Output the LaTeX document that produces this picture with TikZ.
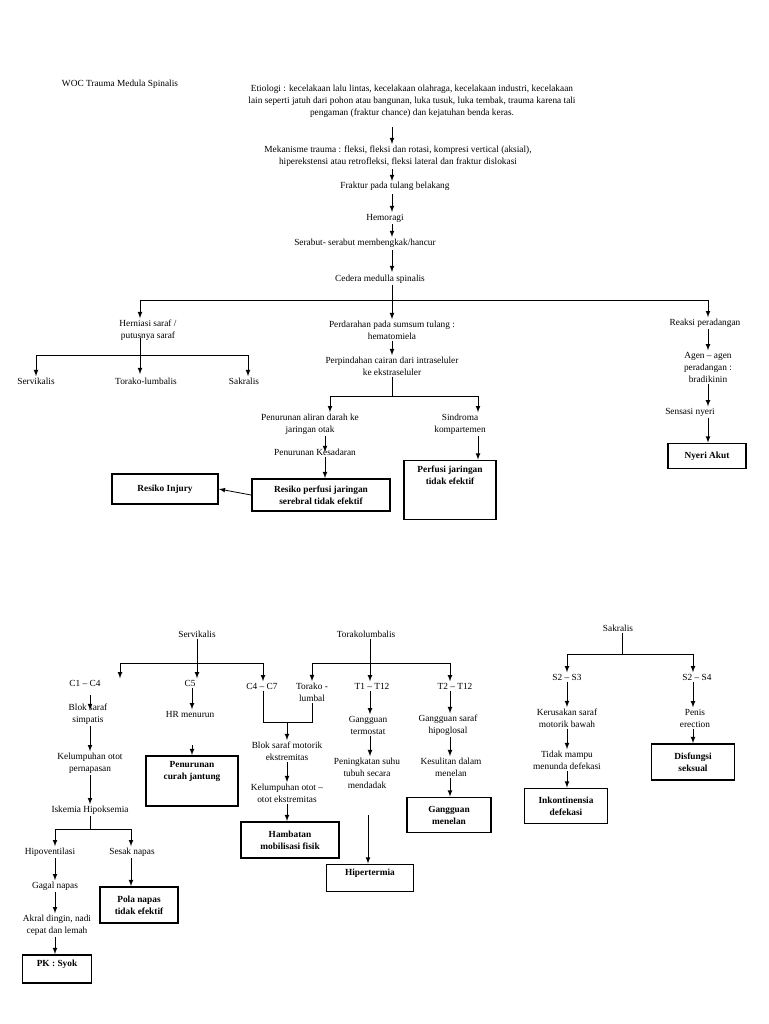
\documentclass[tikz,border=0pt]{standalone}
\usepackage{fontspec}
\setmainfont{Liberation Serif}
\begin{document}
\begin{tikzpicture}[x=0.75pt,y=-0.75pt,
  t/.style={font=\fontsize{7}{9}\selectfont,align=center,inner sep=1pt},
  bx/.style={draw,line width=1.4pt,font=\bfseries\fontsize{7}{9}\selectfont,align=center,inner sep=2pt},
  arr/.style={-latex,line width=0.6pt},
  ln/.style={line width=0.6pt}]
\useasboundingbox (0,0) rectangle (768,1024);
% top
\node[t] (title) at (120,84) {WOC Trauma Medula Spinalis};
\node[t] (etio) at (412,101) {Etiologi : kecelakaan lalu lintas, kecelakaan olahraga, kecelakaan industri, kecelakaan\\lain seperti jatuh dari pohon atau bangunan, luka tusuk, luka tembak, trauma karena tali\\pengaman (fraktur chance) dan kejatuhan benda keras.};
\node[t] (mek) at (398,156) {Mekanisme trauma : fleksi, fleksi dan rotasi, kompresi vertical (aksial),\\hiperekstensi atau retrofleksi, fleksi lateral dan fraktur dislokasi};
\node[t] (frak) at (395,186) {Fraktur pada tulang belakang};
\node[t] (hem) at (385,218) {Hemoragi};
\node[t] (ser) at (365,243) {Serabut- serabut membengkak/hancur};
\node[t] (ced) at (380,279) {Cedera medulla spinalis};
\coordinate (c0) at (392,127); \coordinate (c1) at (392,144);
\draw[arr] (c0) -- (c1);
\coordinate (c2) at (392,169); \coordinate (c3) at (392,181); \draw[arr] (c2) -- (c3);
\coordinate (c4) at (392,194); \coordinate (c5) at (392,212); \draw[arr] (c4) -- (c5);
\coordinate (c6) at (392,224); \coordinate (c7) at (392,237); \draw[arr] (c6) -- (c7);
\coordinate (c8) at (392,250); \coordinate (c9) at (392,272); \draw[arr] (c8) -- (c9);
\coordinate (j1) at (392,300); \coordinate (jl) at (140,300); \coordinate (jr) at (708,300);
\draw[ln] (ced.south -| j1) -- (j1); \draw[ln] (jl) -- (jr);
\node[t] (hern) at (148,330) {Herniasi saraf /\\putusnya saraf};
\node[t] (perd) at (392,330) {Perdarahan pada sumsum tulang :\\hematomiela};
\node[t] (reak) at (705,323) {Reaksi peradangan};
\draw[arr] (jl) -- (jl |- hern.north); \draw[arr] (j1) -- (perd.north); \draw[arr] (jr) -- (jr |- reak.north);
% herniasi branch
\coordinate (h0) at (140,355); \coordinate (hl) at (36,355); \coordinate (hr) at (248,355);
\node[t] (servA) at (36,381) {Servikalis};
\node[t] (torA) at (146,381) {Torako-lumbalis};
\node[t] (sakA) at (244,381) {Sakralis};
\draw[ln] (hl) -- (hr);
\draw[arr] (140,338) -- (140 ,374);
\draw[arr] (hl) -- (hl |- servA.north); \draw[arr] (hr) -- (hr |- sakA.north);
% perdarahan branch
\node[t] (perp) at (392,366) {Perpindahan cairan dari intraseluler\\ke ekstraseluler};
\draw[arr] (perd.south) -- (perp.north);
\coordinate (p0) at (392,396); \coordinate (pl) at (330,396); \coordinate (pr) at (478,396);
\draw[ln] (perp.south) -- (p0); \draw[ln] (pl) -- (pr);
\node[t] (pen) at (310,424) {Penurunan aliran darah ke\\jaringan otak};
\node[t] (sin) at (460,424) {Sindroma\\kompartemen};
\draw[arr] (pl) -- (pl |- pen.north); \draw[arr] (pr) -- (pr |- sin.north);
\node[t] (kes) at (315,452) {Penurunan Kesadaran};
\draw[arr] (325,436) -- (325,452);
\node[bx,minimum width=138pt*0.75,minimum height=32pt*0.75] (rpj) at (321,495) {Resiko perfusi jaringan\\serebral tidak efektif};
\node[bx,minimum width=106pt*0.75,minimum height=30pt*0.75] (inj) at (165,489) {Resiko Injury};
\draw[arr] (kes.south -| 325,0) -- (rpj.north -| 325,0);
\draw[arr] (rpj.west) -- (inj.east);
\node[bx,minimum width=92pt*0.75,minimum height=59pt*0.75,text depth=30pt*0.75] (pje) at (450,490) {Perfusi jaringan\\tidak efektif};
\draw[arr] (sin.south -| pr) -- (pje.north -| pr);
% reaksi branch
\node[t] (agen) at (708,367) {Agen -- agen\\peradangan :\\bradikinin};
\node[t] (sens) at (690,412) {Sensasi nyeri};
\node[bx,minimum width=78pt*0.75,minimum height=25pt*0.75] (nyeri) at (707,456) {Nyeri Akut};
\draw[arr] (reak.south -| jr) -- (agen.north -| jr);
\draw[arr] (agen.south -| jr) -- (sens.north -| jr);
\draw[arr] (sens.south -| jr) -- (nyeri.north -| jr);
% bottom: servikalis
\node[t] (servB) at (197,634) {Servikalis};
\coordinate (s0) at (197,663); \coordinate (sl) at (120,663); \coordinate (sr) at (263,663);
\draw[ln] (sl) -- (sr);
\node[t] (c14) at (85,683) {C1 -- C4};
\node[t] (c5) at (190,683) {C5};
\node[t] (c47) at (262,686) {C4 -- C7};
\draw[arr] (servB.south -| s0) -- (s0 |- c5.north);
\draw[arr] (sl) -- (sl |- c14.north); \draw[arr] (sr) -- (sr |- c47.north);
\node[t] (blok) at (88,714) {Blok saraf\\simpatis};
\draw[arr] (90,695) -- (90,710);
\node[t] (kel) at (90,763) {Kelumpuhan otot\\pernapasan};
\draw[arr] (blok.south -| 90,0) -- (kel.north -| 90,0);
\node[t] (isk) at (90,810) {Iskemia Hipoksemia};
\draw[arr] (kel.south -| 90,0) -- (isk.north -| 90,0);
\coordinate (i0) at (90,829); \coordinate (il) at (55,829); \coordinate (ir) at (131,829);
\draw[ln] (isk.south -| i0) -- (i0); \draw[ln] (il) -- (ir);
\node[t] (hipo) at (50,852) {Hipoventilasi};
\node[t] (sesak) at (132,852) {Sesak napas};
\draw[arr] (il) -- (il |- hipo.north); \draw[arr] (ir) -- (ir |- sesak.north);
\node[t] (gagal) at (55,886) {Gagal napas};
\draw[arr] (hipo.south -| il) -- (gagal.north -| il);
\node[t] (akral) at (57,925) {Akral dingin, nadi\\cepat dan lemah};
\draw[arr] (gagal.south -| il) -- (akral.north -| il);
\node[bx,minimum width=69pt*0.75,minimum height=28pt*0.75,text depth=9pt] (syok) at (57,969) {PK : Syok};
\draw[arr] (akral.south -| il) -- (syok.north -| il);
\node[bx,minimum width=78pt*0.75,minimum height=36pt*0.75] (pola) at (139,905) {Pola napas\\tidak efektif};
\draw[arr] (sesak.south -| ir) -- (pola.north -| ir);
\node[t] (hr) at (190,714) {HR menurun};
\draw[arr] (c5.south -| 192,0) -- (hr.north -| 192,0);
\node[bx,minimum width=92pt*0.75,minimum height=50pt*0.75,text depth=16pt] (curah) at (192,781) {Penurunan\\curah jantung};
\draw[arr] (192,745) -- (curah.north -| 192,0);
% torakolumbalis
\node[t] (torB) at (366,634) {Torakolumbalis};
\coordinate (t0) at (370,663); \coordinate (tl) at (312,663); \coordinate (tr) at (450,663);
\draw[ln] (tl) -- (tr);
\node[t] (torl) at (312,692) {Torako -\\lumbal};
\node[t] (t112) at (372,686) {T1 -- T12};
\node[t] (t212) at (455,686) {T2 -- T12};
\draw[arr] (torB.south -| t0) -- (t0 |- t112.north);
\draw[arr] (tl) -- (tl |- torl.north); \draw[arr] (tr) -- (tr |- t212.north);
\coordinate (m0) at (287,722);
\draw[ln] (c47.south -| 263,0) -- (263,722) -- (312,722) -- (torl.south -| 312,0);
\node[t] (bsm) at (287,751) {Blok saraf motorik\\ekstremitas};
\draw[arr] (m0) -- (bsm.north);
\node[t] (keo) at (287,793) {Kelumpuhan otot --\\otot ekstremitas};
\draw[arr] (bsm.south) -- (keo.north);
\node[bx,minimum width=98pt*0.75,minimum height=36pt*0.75] (hmf) at (290,840) {Hambatan\\mobilisasi fisik};
\draw[arr] (keo.south -| 287,0) -- (hmf.north -| 287,0);
\node[t] (gterm) at (368,725) {Gangguan\\termostat};
\draw[arr] (t112.south -| t0) -- (gterm.north -| t0);
\node[t] (psuhu) at (367,773) {Peningkatan suhu\\tubuh secara\\mendadak};
\draw[arr] (gterm.south -| t0) -- (psuhu.north -| t0);
\node[bx,minimum width=87pt*0.75,minimum height=27pt*0.75,text depth=8pt] (hiper) at (370,878) {Hipertermia};
\coordinate (hp) at (368,815);
\draw[arr] (hp) -- (hiper.north -| hp);
\node[t] (ghip) at (448,725) {Gangguan saraf\\hipoglosal};
\draw[arr] (t212.south -| tr) -- (ghip.north -| tr);
\node[t] (ksd) at (451,767) {Kesulitan dalam\\menelan};
\draw[arr] (ghip.south -| tr) -- (ksd.north -| tr);
\node[bx,minimum width=84pt*0.75,minimum height=35pt*0.75] (gmen) at (449,815) {Gangguan\\menelan};
\draw[arr] (ksd.south -| tr) -- (gmen.north -| tr);
% sakralis
\node[t] (sakB) at (618,628) {Sakralis};
\coordinate (k0) at (622,654); \coordinate (kl) at (567,654); \coordinate (kr) at (693,654);
\draw[ln] (sakB.south -| k0) -- (k0); \draw[ln] (kl) -- (kr);
\node[t] (s23) at (567,677) {S2 -- S3};
\node[t] (s24) at (697,677) {S2 -- S4};
\draw[arr] (kl) -- (kl |- s23.north); \draw[arr] (kr) -- (kr |- s24.north);
\node[t] (kms) at (567,718) {Kerusakan saraf\\motorik bawah};
\draw[arr] (s23.south -| kl) -- (kms.north -| kl);
\node[t] (tmm) at (567,760) {Tidak mampu\\menunda defekasi};
\draw[arr] (kms.south -| kl) -- (tmm.north -| kl);
\node[bx,minimum width=83pt*0.75,minimum height=35pt*0.75] (ink) at (566,806) {Inkontinensia\\defekasi};
\draw[arr] (tmm.south -| kl) -- (ink.north -| kl);
\node[t] (pen2) at (695,718) {Penis\\erection};
\draw[arr] (s24.south -| kr) -- (pen2.north -| kr);
\node[bx,minimum width=83pt*0.75,minimum height=36pt*0.75] (dis) at (693,762) {Disfungsi\\seksual};
\draw[arr] (pen2.south -| kr) -- (dis.north -| kr);
\end{tikzpicture}
\end{document}
